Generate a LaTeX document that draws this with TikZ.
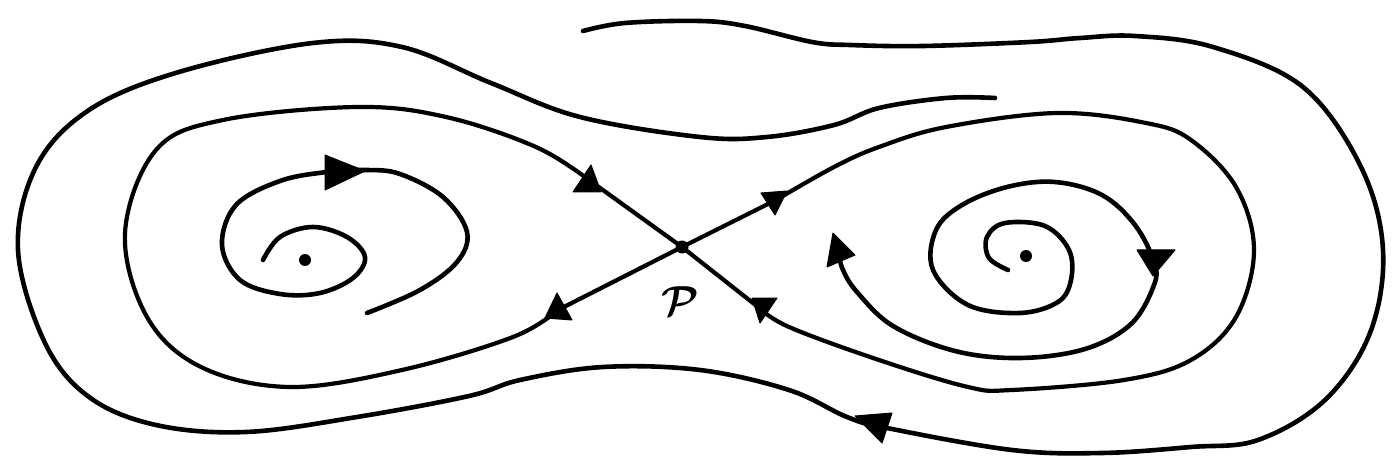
\documentclass[tikz,border=0pt]{standalone}
\usepackage{amsmath,amssymb,bm}
\begin{document}
\begin{tikzpicture}[x=1pt,y=-1pt,
  orbit/.style={line width=4.6pt,line cap=round,line join=round},
  sep/.style={line width=4.2pt,line cap=round,line join=round},
  arrowfill/.style={fill=black,draw=black,line width=1pt,line join=round},
  dotnode/.style={circle,fill=black,inner sep=0pt,minimum size=13pt}]
\useasboundingbox (0,0) rectangle (1398,473);
\fill[white] (0,0) rectangle (1398,473);

% equilibria
\node[dotnode] (P) at (682,247) {};
\node[dotnode,minimum size=12pt] (FL) at (305,260) {};
\node[dotnode,minimum size=12pt] (FR) at (1026,256) {};
\node[scale=4.2] (Plab) at (680,301) {$\bm{\mathcal{P}}$};

% outer orbit
\draw[orbit] plot[smooth,tension=0.6] coordinates {
 (583,31) (625,23) (700,21) (745,26) (812,42) (850,45) (923,46) (1030,42)
 (1080,38) (1135,36) (1213,47) (1303,87) (1361,167) (1383,250) (1370,333) (1325,400)
 (1258,440) (1191,447) (1102,453) (1012,450) (887,428) (847,417) (789,390)
 (700,370) (603,367) (520,380) (469,396) (357,417) (246,432) (156,425)
 (89,397) (45,343) (18,250) (36,167) (89,110) (179,72) (313,43) (402,47)
 (491,83) (580,117) (700,137) (767,137) (834,125) (879,108) (946,98) (995,98)};

% left homoclinic loop
\draw[sep] (P.center) -- plot[smooth,tension=0.6] coordinates {
 (589,180) (536,147) (446,117) (357,107) (223,120) (156,150) (125,233)
 (147,317) (201,367) (290,387) (402,370) (513,337) (558,310)} -- (P.center);

% right homoclinic loop
\draw[sep] (P.center) -- plot[smooth,tension=0.6] coordinates {
 (776,200) (834,167) (879,147) (946,127) (1057,113) (1146,123) (1191,140)
 (1236,187) (1254,250) (1236,317) (1191,360) (1124,380) (1012,390)
 (968,387) (879,360) (789,327) (758,307)} -- (P.center);

% left spiral
\draw[orbit] plot[smooth,tension=0.6] coordinates {
 (263,260) (280,237) (313,227) (347,237) (365,257) (353,278) (320,293)
 (280,294) (240,280) (222,245) (236,205) (280,181) (327,172) (366,170)
 (400,174) (443,197) (467,232) (457,262) (420,290) (367,313)};

% right spiral
\draw[orbit] plot[smooth,tension=0.6] coordinates {
 (1008,270) (989,258) (987,237) (1005,223) (1045,226) (1069,250) (1071,280)
 (1058,302) (1020,313) (968,305) (933,270) (936,230) (962,205) (1007,187)
 (1055,182) (1102,195) (1135,225) (1154,262) (1154,285) (1131,324)
 (1085,349) (1020,358) (955,351) (893,326) (857,292) (843,270) (838,252)};

% arrowheads
\fill[arrowfill] (325,155) -- (365,171) -- (325,190) -- cycle;
\fill[arrowfill] (591,165) -- (601,192) -- (573,192) -- cycle;
\fill[arrowfill] (557,293) -- (572,320) -- (545,318) -- cycle;
\fill[arrowfill] (761,193) -- (787,191) -- (775,215) -- cycle;
\fill[arrowfill] (752,298) -- (777,298) -- (760,323) -- cycle;
\fill[arrowfill] (833,233) -- (855,255) -- (827,267) -- cycle;
\fill[arrowfill] (1137,250) -- (1175,250) -- (1153,276) -- cycle;
\fill[arrowfill] (855,416) -- (892,413) -- (882,443) -- cycle;
\end{tikzpicture}
\end{document}
